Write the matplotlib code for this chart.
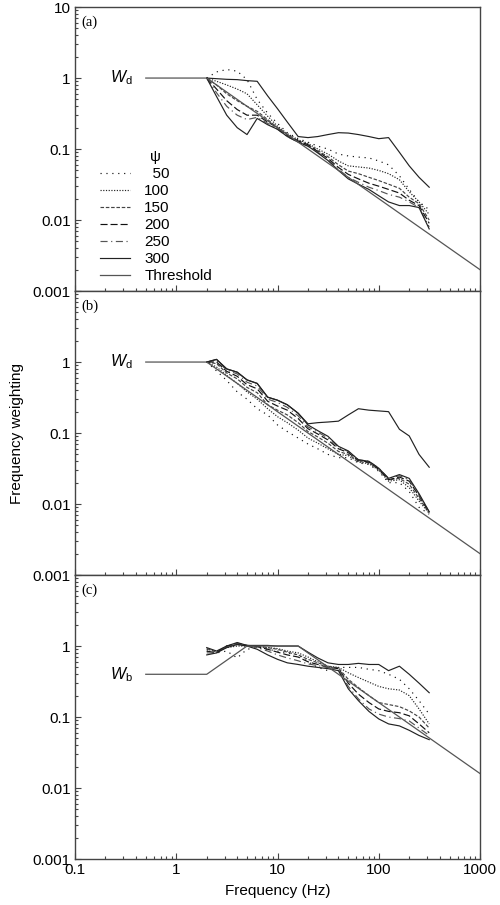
import numpy as np
import matplotlib.pyplot as plt
from matplotlib.ticker import FixedLocator, LogLocator, NullFormatter, FixedFormatter

plt.rcParams['font.family'] = ['Liberation Sans', 'DejaVu Sans']
plt.rcParams['mathtext.fontset'] = 'custom'
plt.rcParams['mathtext.rm'] = 'Liberation Sans'
plt.rcParams['mathtext.it'] = 'Liberation Sans:italic'

# one-third octave band centres (Hz)
freq = [2, 2.5, 3.15, 4, 5, 6.3, 8, 10, 12.5, 16, 20, 25, 31.5, 40, 50, 63,
        80, 100, 125, 160, 200, 250, 315]
psi = [50, 100, 150, 200, 250, 300]

# threshold weightings
wd_f = [0.5, 2, 1000]
wd_w = [1, 1, 0.002]
wb_f = [0.5, 2, 5, 16, 1000]
wb_w = [0.4, 0.4, 1, 1, 0.016]

# panel (a)
a_50 = [1, 1.22, 1.32, 1.25, 0.95, 0.5, 0.32, 0.23, 0.17, 0.14, 0.125, 0.11, 0.1, 0.085,
        0.08, 0.077, 0.075, 0.068, 0.06, 0.042, 0.027, 0.018, 0.014]
a_100 = [1, 0.9, 0.8, 0.7, 0.6, 0.42, 0.29, 0.21, 0.165, 0.135, 0.12, 0.1, 0.085, 0.068,
         0.058, 0.056, 0.054, 0.05, 0.045, 0.037, 0.025, 0.018, 0.012]
a_150 = [1, 0.8, 0.6, 0.48, 0.4, 0.34, 0.26, 0.2, 0.16, 0.13, 0.115, 0.095, 0.078, 0.06,
         0.049, 0.045, 0.04, 0.036, 0.032, 0.028, 0.021, 0.017, 0.01]
a_200 = [1, 0.7, 0.48, 0.36, 0.3, 0.3, 0.24, 0.2, 0.155, 0.13, 0.115, 0.092, 0.074, 0.055,
         0.044, 0.038, 0.033, 0.03, 0.027, 0.024, 0.019, 0.016, 0.009]
a_250 = [1, 0.62, 0.4, 0.3, 0.26, 0.28, 0.23, 0.19, 0.15, 0.125, 0.11, 0.09, 0.071, 0.052,
         0.04, 0.034, 0.029, 0.026, 0.023, 0.021, 0.018, 0.015, 0.008]
a_300 = [1, 0.55, 0.3, 0.2, 0.16, 0.27, 0.22, 0.19, 0.15, 0.125, 0.11, 0.088, 0.069, 0.05,
         0.038, 0.032, 0.027, 0.022, 0.018, 0.016, 0.016, 0.015, 0.0075]
a_top = [1, 0.98, 0.96, 0.95, 0.92, 0.9, 0.56, 0.37, 0.24, 0.15, 0.145, 0.15, 0.16, 0.17,
         0.168, 0.16, 0.15, 0.14, 0.145, 0.09, 0.058, 0.04, 0.029]

# panel (b)
b_50 = [1, 0.75, 0.55, 0.38, 0.3, 0.22, 0.18, 0.13, 0.105, 0.085, 0.07, 0.06, 0.05, 0.045,
        0.045, 0.038, 0.036, 0.029, 0.02, 0.02, 0.015, 0.009, 0.0072]
b_100 = [1, 0.85, 0.65, 0.5, 0.38, 0.3, 0.22, 0.17, 0.14, 0.11, 0.085, 0.072, 0.06, 0.05,
         0.048, 0.039, 0.037, 0.03, 0.021, 0.022, 0.017, 0.011, 0.0074]
b_150 = [1, 0.95, 0.7, 0.58, 0.44, 0.37, 0.25, 0.21, 0.18, 0.14, 0.105, 0.088, 0.072, 0.055,
         0.05, 0.04, 0.038, 0.031, 0.022, 0.023, 0.019, 0.012, 0.0075]
b_200 = [1, 1.0, 0.74, 0.63, 0.48, 0.42, 0.28, 0.24, 0.21, 0.16, 0.115, 0.097, 0.08, 0.06,
         0.053, 0.041, 0.039, 0.031, 0.022, 0.024, 0.021, 0.013, 0.0076]
b_250 = [1, 1.05, 0.77, 0.68, 0.52, 0.46, 0.3, 0.27, 0.23, 0.175, 0.122, 0.103, 0.085, 0.063,
         0.055, 0.042, 0.04, 0.032, 0.023, 0.025, 0.022, 0.0135, 0.0077]
b_300 = [1, 1.09, 0.8, 0.72, 0.56, 0.5, 0.32, 0.29, 0.25, 0.19, 0.13, 0.108, 0.09, 0.065,
         0.056, 0.042, 0.04, 0.032, 0.023, 0.026, 0.023, 0.014, 0.0078]
b_top = [1, 1.09, 0.8, 0.72, 0.56, 0.5, 0.32, 0.29, 0.25, 0.19, 0.135, 0.14, 0.143, 0.147,
         0.18, 0.22, 0.21, 0.205, 0.2, 0.113, 0.091, 0.05, 0.033]

# panel (c)
c_50 = [0.85, 0.8, 0.85, 0.68, 0.9, 0.95, 0.9, 0.85, 0.8, 0.75, 0.6, 0.5, 0.45, 0.5,
        0.5, 0.5, 0.47, 0.45, 0.4, 0.34, 0.25, 0.17, 0.11]
c_100 = [0.9, 0.85, 0.95, 1.0, 1.0, 0.98, 0.95, 0.92, 0.85, 0.8, 0.7, 0.6, 0.52, 0.5,
         0.42, 0.36, 0.31, 0.27, 0.25, 0.24, 0.2, 0.13, 0.08]
c_150 = [0.92, 0.82, 1.0, 1.05, 1.02, 1.0, 0.95, 0.9, 0.82, 0.75, 0.65, 0.58, 0.52, 0.49,
         0.34, 0.26, 0.2, 0.16, 0.15, 0.14, 0.122, 0.1, 0.07]
c_200 = [0.85, 0.8, 1.0, 1.08, 1.02, 0.98, 0.9, 0.82, 0.75, 0.7, 0.6, 0.55, 0.5, 0.48,
         0.3, 0.21, 0.16, 0.13, 0.12, 0.115, 0.104, 0.08, 0.06]
c_250 = [0.8, 0.8, 0.98, 1.1, 1.02, 0.95, 0.85, 0.75, 0.68, 0.62, 0.56, 0.53, 0.5, 0.47,
         0.27, 0.18, 0.13, 0.11, 0.1, 0.095, 0.088, 0.07, 0.055]
c_300 = [0.75, 0.8, 0.95, 1.05, 1.0, 0.9, 0.75, 0.65, 0.58, 0.55, 0.52, 0.5, 0.48, 0.45,
         0.25, 0.17, 0.12, 0.094, 0.08, 0.075, 0.065, 0.055, 0.048]
c_top = [0.95, 0.85, 1.0, 1.12, 1.02, 1.02, 1.02, 1.0, 1.0, 1.0, 0.82, 0.68, 0.58, 0.55,
         0.55, 0.57, 0.55, 0.55, 0.45, 0.52, 0.4, 0.3, 0.22]

panels = [
    ('(a)', [a_50, a_100, a_150, a_200, a_250, a_300], a_top, wd_f, wd_w, r'$W_\mathrm{d}$', 1.0),
    ('(b)', [b_50, b_100, b_150, b_200, b_250, b_300], b_top, wd_f, wd_w, r'$W_\mathrm{d}$', 1.0),
    ('(c)', [c_50, c_100, c_150, c_200, c_250, c_300], c_top, wb_f, wb_w, r'$W_\mathrm{b}$', 0.4),
]

styles = [(0, (1, 4)), (0, (1, 1.3)), (0, (3, 1.5)), (0, (6, 2.5)), (0, (6, 3, 1, 3)), '-']
colors = ['#111111', '#222222', '#444444', '#111111', '#555555', '#222222']
labels = ['\u200750', '100', '150', '200', '250', '300']

fig = plt.figure(figsize=(5, 9.05), dpi=100)
h = 0.3138
bottoms = [0.0508 + 2 * h, 0.0508 + h, 0.0508]

axs = []
for i, (tag, curves, top, tf, tw, wlab, wy) in enumerate(panels):
    ax = fig.add_axes([0.15, bottoms[i], 0.81, h])
    axs.append(ax)
    for vals, ls, col, lab in zip(curves, styles, colors, labels):
        ax.plot(freq, vals, linestyle=ls, color=col, lw=0.85, label=lab)
    ax.plot(freq, top, '-', color='#222222', lw=0.85)
    ax.plot(tf, tw, '-', color='#555555', lw=0.9, label='Threshold')
    ax.set_xscale('log')
    ax.set_yscale('log')
    ax.set_xlim(0.1, 1000)
    ax.set_ylim(0.001, 10)
    ax.text(0.37, wy, wlab, ha='right', va='center', fontsize=11.5)
    ax.text(0.016, 0.97, tag, transform=ax.transAxes, ha='left', va='top',
            fontsize=10.5, family='Liberation Serif')

    yt = [0.001, 0.01, 0.1, 1, 10]
    ylab = ['0.001', '0.01', '0.1', '1', '10'] if i == 0 else ['0.001', '0.01', '0.1', '1', '']
    ax.yaxis.set_major_locator(FixedLocator(yt))
    ax.yaxis.set_major_formatter(FixedFormatter(ylab))
    ax.yaxis.set_minor_locator(LogLocator(base=10, subs=np.arange(2, 10), numticks=20))
    ax.yaxis.set_minor_formatter(NullFormatter())
    ax.xaxis.set_major_locator(FixedLocator([0.1, 1, 10, 100, 1000]))
    ax.xaxis.set_minor_locator(LogLocator(base=10, subs=np.arange(2, 10), numticks=20))
    ax.xaxis.set_minor_formatter(NullFormatter())
    if i < 2:
        ax.xaxis.set_major_formatter(NullFormatter())
    else:
        ax.xaxis.set_major_formatter(FixedFormatter(['0.1', '1', '10', '100', '1000']))
    ax.tick_params(which='both', direction='in', top=False, right=False, labelsize=11,
                   width=0.8, color='#444444')
    ax.tick_params(which='major', length=4, pad=3)
    ax.tick_params(which='minor', length=2)
    for sp in ax.spines.values():
        sp.set_linewidth(1.0)
        sp.set_color('#444444')

leg = axs[0].legend(loc='upper left', bbox_to_anchor=(0.035, 0.535), frameon=False,
                    title='\u03c8', fontsize=11, title_fontsize=11, handlelength=2.0,
                    handletextpad=0.9, labelspacing=0.2, borderpad=0.2)

axs[1].set_ylabel('Frequency weighting', fontsize=11, labelpad=6)
axs[2].set_xlabel('Frequency (Hz)', fontsize=11, labelpad=5)

fig.savefig('out.png', dpi=100)
